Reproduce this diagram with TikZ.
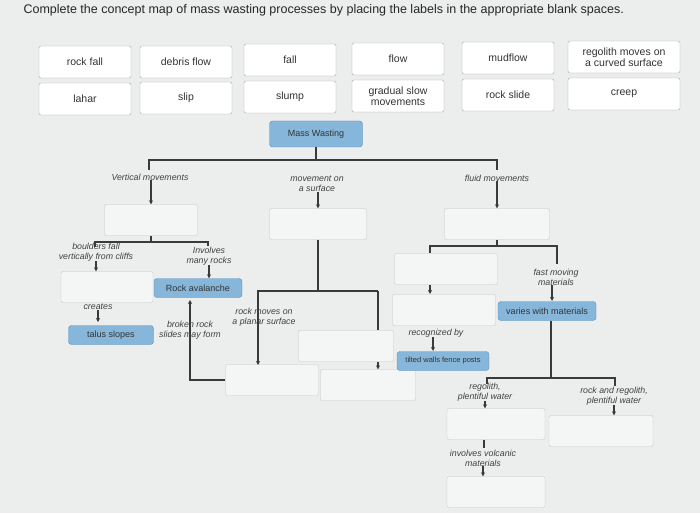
\documentclass[tikz,border=0pt]{standalone}
\usepackage{fontspec}
\setmainfont{Liberation Sans}
\usetikzlibrary{arrows.meta}
\definecolor{bg}{HTML}{ECEEEE}
\definecolor{bluebox}{HTML}{86B6DA}
\definecolor{blueedge}{HTML}{5A8EBA}
\definecolor{lineg}{HTML}{3A3A3A}
\tikzset{
  tile/.style={draw=gray!70,fill=white,rounded corners=2pt,minimum width=92pt,minimum height=32pt,font=\fontsize{10.5}{11.5}\selectfont,align=center,text=black!80,inner sep=1pt},
  blank/.style={draw=gray!45,fill=bg!60!white,rounded corners=2pt,minimum width=#1,minimum height=31pt,inner sep=0pt},
  blank/.default=97pt,
  filled/.style={draw=blueedge,fill=bluebox,rounded corners=3pt,font=\fontsize{9}{10}\selectfont,text=black!80,inner sep=2pt,minimum height=19pt},
  lab/.style={font=\itshape\fontsize{8.8}{9.8}\selectfont,align=center,text=black!75,inner sep=0pt},
  ln/.style={draw=lineg,line width=1.1pt},
  arr/.style={ln,-{Stealth[length=4pt,width=4pt]}}
}
\begin{document}
\begin{tikzpicture}[x=1pt,y=-1pt]
\fill[bg] (0,0) rectangle (700,513);
\useasboundingbox (0,0) rectangle (700,513);
\node[anchor=west,font=\fontsize{12.5}{14}\selectfont,text=black!85] (title) at (20,10) {Complete the concept map of mass wasting processes by placing the labels in the appropriate blank spaces.};
% tiles
\node[tile] (t1) at (85,62) {rock fall};
\node[tile] (t2) at (186,62) {debris flow};
\node[tile] (t3) at (290,60) {fall};
\node[tile] (t4) at (398,59) {flow};
\node[tile] (t5) at (508,58) {mudflow};
\node[tile,minimum width=112pt] (t6) at (624,57) {regolith moves on\\a curved surface};
\node[tile] (u1) at (85,99) {lahar};
\node[tile] (u2) at (186,98) {slip};
\node[tile] (u3) at (290,97) {slump};
\node[tile] (u4) at (398,96) {gradual slow\\movements};
\node[tile] (u5) at (508,95) {rock slide};
\node[tile,minimum width=112pt] (u6) at (624,94) {creep};
% root
\node[filled,minimum width=93pt,minimum height=26pt] (mw) at (316,134) {Mass Wasting};
\coordinate (h1) at (316,160);
\draw[ln] (mw) -- (h1);
\draw[ln] (149,170) |- (497,160) -- (497,170);
\node[lab] (l1) at (150,177) {Vertical movements};
\node[lab] (l2) at (317,184) {movement on\\a surface};
\node[lab] (l3) at (497,178) {fluid movements};
% level boxes
\node[blank=93pt] (b1) at (151,220) {};
\node[blank=97pt] (b2) at (318,224) {};
\node[blank=105pt] (b3) at (497,224) {};
\draw[arr] (l1.south -| b1) -- (b1);
\draw[arr] (l2.south -| b2) -- (b2);
\draw[arr] (l3.south -| b3) -- (b3);
% left branch
\draw[ln] (b1.south) -- (151,242);
\draw[ln] (95,247) |- (208,242) -- (208,246);
\node[lab] (l4) at (96,252) {boulders fall\\vertically from cliffs};
\node[lab] (l5) at (209,256) {Involves\\many rocks};
\node[blank=92pt] (b4) at (107,287) {};
\node[filled,minimum width=88pt] (ra) at (198,288) {Rock avalanche};
\draw[arr] (l4.south) -- (l4.south |- b4.north);
\draw[arr] (l5.south) -- (l5.south |- ra.north);
\node[lab] (l6) at (98,307) {creates};
\draw[arr] (l6) -- (98,322);
\node[filled,minimum width=85pt] (ts) at (111,335) {talus slopes};
\node[lab] (l7) at (190,330) {broken rock\\slides may form};
% middle branch
\draw[ln] (b2.south) -- (318,291);
\draw[ln] (258,300) |- (378,291);
\node[lab,fill=bg] (l8) at (264,317) {rock moves on\\a planar surface};
\node[blank=95pt] (b5) at (346,346) {};
\node[blank=93pt] (b6) at (272,380) {};
\node[blank=95pt] (b7) at (368,385) {};
\draw[arr] (258,300) -- (258,365);
\draw[ln] (378,291) -- (b5.north -| 378,0);
\draw[arr] (b5.south -| 378,0) -- (b7.north -| 378,0);
\draw[ln,-{Stealth[length=4pt,width=4pt]}] (b6.west) -| (190,342) -- (190,300);
% right branch
\draw[ln] (b3.south) -- (497,246);
\draw[ln] (430,253) |- (557,246) -- (557,264);
\node[blank=103pt] (b8) at (446,269) {};
\node[blank=103pt] (b9) at (444,310) {};
\draw[arr] (430,285) -- (430,294);
\node[lab] (l9) at (436,333) {recognized by};
\draw[arr] (l9.south -| 433,0) -- (433,351);
\node[filled,minimum width=92pt,font=\fontsize{7.5}{9}\selectfont] (tw) at (443,361) {tilted walls fence posts};
\node[lab] (l10) at (556,277) {fast moving\\materials};
\draw[arr] (l10.south -| 552,0) -- (552,301);
\node[filled,minimum width=98pt] (vm) at (547,311) {varies with materials};
\draw[ln] (vm.south -| 551,0) -- (551,378);
\draw[ln] (487,384) |- (615,378) -- (615,386);
\node[lab] (l11) at (485,392) {regolith,\\plentiful water};
\node[lab] (l12) at (614,396) {rock and regolith,\\plentiful water};
\node[blank=98pt] (b10) at (496,424) {};
\node[blank=104pt] (b11) at (601,431) {};
\draw[arr] (l11.south -| 485,0) -- (b10.north -| 485,0);
\draw[arr] (l12.south -| 614,0) -- (b11.north -| 614,0);
\draw[ln] (b10.south -| 484,0) -- (484,448);
\node[lab] (l13) at (483,458) {involves volcanic\\materials};
\node[blank=98pt] (b12) at (496,492) {};
\draw[arr] (l13.south -| 483,0) -- (b12.north -| 483,0);
\end{tikzpicture}
\end{document}
